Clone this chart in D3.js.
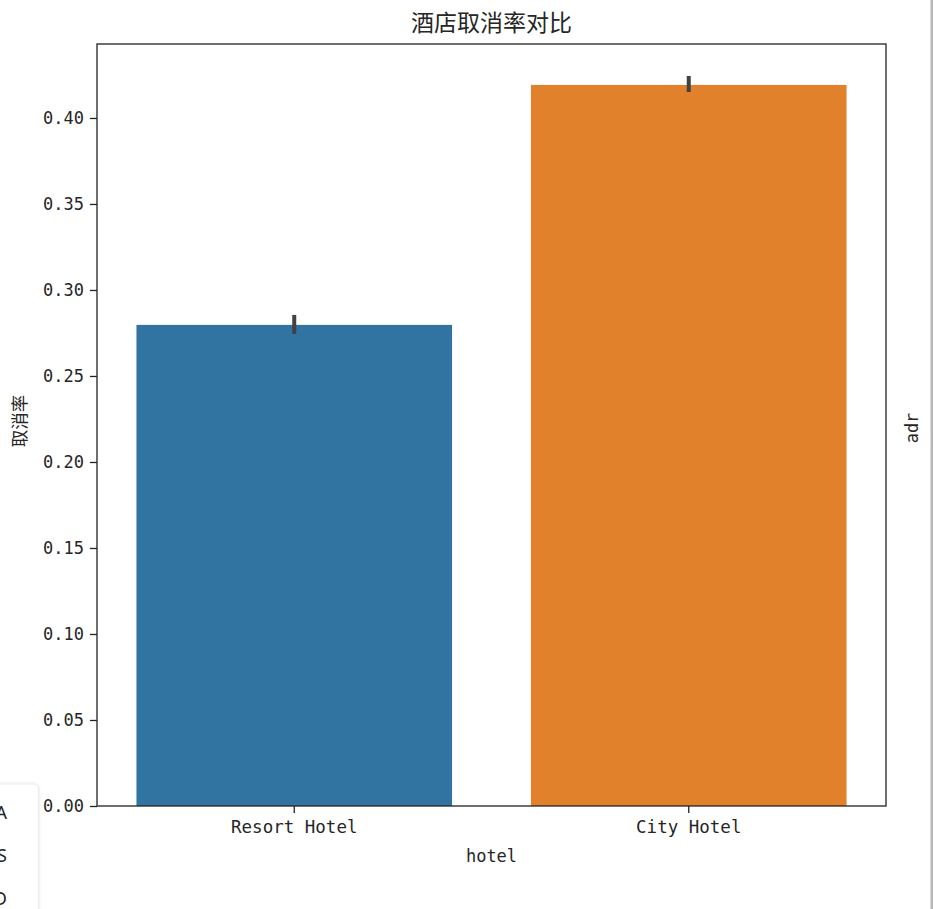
<!DOCTYPE html>
<html>
<head>
<meta charset="utf-8">
<script src="https://cdn.jsdelivr.net/npm/d3@7"></script>
<style>
  html, body { margin: 0; padding: 0; background: #ffffff; }
  svg { display: block; }
</style>
</head>
<body>
<svg id="chart" width="933" height="909"></svg>
<script>
// ---- data ----
const hotels = ["Resort Hotel", "City Hotel"];
const cancelRate = [0.2797, 0.4192];
const ciLow = [0.2744, 0.4151];
const ciHigh = [0.2855, 0.4244];
const yTicks = [0.00, 0.05, 0.10, 0.15, 0.20, 0.25, 0.30, 0.35, 0.40];
const titleText = "酒店取消率对比";
const xLabelText = "hotel";
const yLabelText = "取消率";
const rightLabelText = "adr";
const sideLetters = ["A", "S", "D"];

const barColors = ["#3274a1", "#e1812c"];

// ---- layout ----
const svg = d3.select("#chart");
const margin = { left: 97, right: 886, top: 44, bottom: 806 };
const monoFont = "'DejaVu Sans Mono', 'Liberation Mono', monospace";
const cjkFont = "'Noto Sans CJK SC', 'Noto Sans', sans-serif";
const textColor = "#262626";

svg.append("rect").attr("width", 933).attr("height", 909).attr("fill", "#ffffff");

const x = d3.scaleBand().domain(hotels).range([margin.left, margin.right]).paddingInner(0.2).paddingOuter(0.1);
const y = d3.scaleLinear().domain([0, 0.443]).range([margin.bottom, margin.top]);

// bars
svg.append("g").selectAll("rect")
  .data(hotels)
  .join("rect")
  .attr("x", d => x(d))
  .attr("width", x.bandwidth())
  .attr("y", (d, i) => y(cancelRate[i]))
  .attr("height", (d, i) => y(0) - y(cancelRate[i]))
  .attr("fill", (d, i) => barColors[i]);

// error bars
svg.append("g").selectAll("line")
  .data(hotels)
  .join("line")
  .attr("x1", d => x(d) + x.bandwidth() / 2)
  .attr("x2", d => x(d) + x.bandwidth() / 2)
  .attr("y1", (d, i) => y(ciLow[i]))
  .attr("y2", (d, i) => y(ciHigh[i]))
  .attr("stroke", "#424242")
  .attr("stroke-width", 4)
  .attr("stroke-linecap", "butt");

// axes
const yAxis = d3.axisLeft(y).tickValues(yTicks).tickFormat(d3.format(".2f")).tickSize(7).tickPadding(6);
const gy = svg.append("g").attr("transform", `translate(${margin.left},0)`).call(yAxis);
gy.select(".domain").remove();
gy.selectAll("line").attr("stroke", "#222").attr("stroke-width", 1.3);
gy.selectAll("text").attr("font-family", monoFont).attr("font-size", "17px").attr("fill", textColor);

const xAxis = d3.axisBottom(x).tickSize(7).tickPadding(8);
const gx = svg.append("g").attr("transform", `translate(0,${margin.bottom})`).call(xAxis);
gx.select(".domain").remove();
gx.selectAll("line").attr("stroke", "#222").attr("stroke-width", 1.3);
gx.selectAll("text").attr("font-family", monoFont).attr("font-size", "17.5px").attr("fill", textColor);

// frame
svg.append("rect")
  .attr("x", margin.left).attr("y", margin.top)
  .attr("width", margin.right - margin.left).attr("height", margin.bottom - margin.top)
  .attr("fill", "none").attr("stroke", "#222").attr("stroke-width", 1.3);

// title
svg.append("text")
  .attr("x", (margin.left + margin.right) / 2).attr("y", 31)
  .attr("text-anchor", "middle")
  .attr("font-family", cjkFont).attr("font-size", "23px").attr("fill", textColor)
  .text(titleText);

// x label
svg.append("text")
  .attr("x", (margin.left + margin.right) / 2).attr("y", 862)
  .attr("text-anchor", "middle")
  .attr("font-family", monoFont).attr("font-size", "17px").attr("fill", textColor)
  .text(xLabelText);

// y label
svg.append("text")
  .attr("transform", `translate(26,${(margin.top + margin.bottom) / 2 - 4}) rotate(-90)`)
  .attr("text-anchor", "middle")
  .attr("font-family", cjkFont).attr("font-size", "17.5px").attr("fill", textColor)
  .text(yLabelText);

// right label
svg.append("text")
  .attr("transform", `translate(918,${(margin.top + margin.bottom) / 2 + 3}) rotate(-90)`)
  .attr("text-anchor", "middle")
  .attr("font-family", monoFont).attr("font-size", "17px").attr("fill", textColor)
  .text(rightLabelText);

// right-edge gray strip
svg.append("rect").attr("x", 930.5).attr("y", 0).attr("width", 3).attr("height", 909).attr("fill", "#b8b8b8");

// bottom-left overlay box (partially off-page, as in the reference)
const defs = svg.append("defs");
const f = defs.append("filter").attr("id", "shadow").attr("x", "-50%").attr("y", "-50%").attr("width", "200%").attr("height", "200%");
f.append("feDropShadow").attr("dx", 0).attr("dy", 0).attr("stdDeviation", 1.5).attr("flood-color", "#000").attr("flood-opacity", 0.12);
svg.append("rect")
  .attr("x", -10).attr("y", 784).attr("width", 48.5).attr("height", 140).attr("rx", 5)
  .attr("fill", "#ffffff").attr("stroke", "#ececec").attr("stroke-width", 1)
  .attr("filter", "url(#shadow)");
svg.append("g").selectAll("text")
  .data(sideLetters)
  .join("text")
  .attr("x", 7)
  .attr("y", (d, i) => 819 + i * 43)
  .attr("text-anchor", "end")
  .attr("font-family", "'Noto Sans', 'DejaVu Sans', sans-serif")
  .attr("font-size", "18px")
  .attr("fill", "#222")
  .text(d => d);
</script>
</body>
</html>
